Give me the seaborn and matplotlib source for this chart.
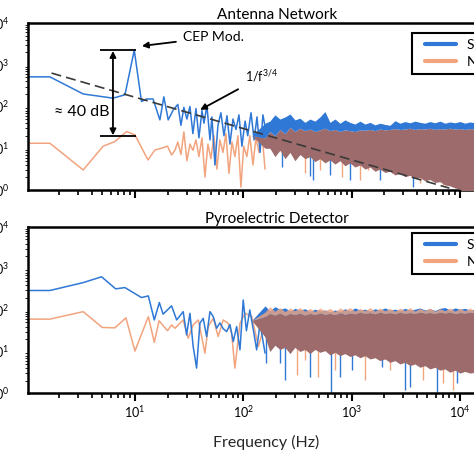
import numpy as np
import matplotlib
matplotlib.use("Agg")
import matplotlib.pyplot as plt
from matplotlib.lines import Line2D
from matplotlib.legend_handler import HandlerLine2D
import seaborn as sns

# ---- values: frequency in Hz, PSD as log10 ----
# Antenna network, resolved low-frequency part
TOP_SIG_F = [1.0, 1.64, 3.33, 6.27, 8.09, 9.86, 11.5, 12.8, 14.7, 17.0,
             18.5, 20.3, 22.6, 24.9, 26.6, 28.3, 30.2, 32.2, 34.3, 36.6,
             39.0, 41.6, 43.4, 46.2, 49.3, 51.4, 54.8, 58.4, 62.2, 66.4,
             70.8, 75.4, 80.4, 85.7, 91.3, 97.3, 104, 110, 118, 126,
             134, 143, 152, 162]
TOP_SIG_LOG = [2.71, 2.71, 2.30, 2.20, 2.28, 3.35, 2.12, 2.18, 2.18, 1.68,
               2.23, 1.68, 1.92, 2.05, 1.55, 1.98, 1.70, 2.00, 1.35, 1.95,
               1.25, 1.90, 1.60, 2.02, 1.20, 1.75, 0.60, 1.55, 1.85, 1.30,
               1.78, 1.10, 1.70, 1.45, 1.80, 1.05, 1.65, 1.30, 1.85, 1.20,
               1.75, 0.90, 1.80, 1.40]
TOP_NOI_F = [1.0, 1.64, 3.33, 5.09, 6.53, 8.38, 10.0, 13.2, 15.3, 17.6,
             20.0, 21.8, 23.4, 24.9, 26.6, 28.3, 30.2, 32.2, 34.3, 36.6,
             39.0, 41.6, 44.3, 47.2, 50.3, 53.6, 57.1, 60.9, 65.0, 69.2,
             73.8, 78.7, 83.8, 89.3, 95.2, 101, 108, 115, 123, 131,
             140, 149, 159]
TOP_NOI_LOG = [1.12, 1.12, 0.48, 1.05, 1.16, 1.40, 1.32, 0.72, 0.96, 1.00,
               1.05, 0.84, 0.95, 1.15, 0.85, 1.39, 0.70, 1.10, 0.95, 1.20,
               0.80, 1.25, 0.31, 1.10, 0.75, 1.30, 0.50, 1.20, 0.90, 1.35,
               0.40, 1.15, 0.80, 1.30, 0.07, 1.05, 0.80, 1.30, 0.60, 1.25,
               0.90, 1.35, 0.50]

# Pyroelectric detector, resolved low-frequency part
BOT_SIG_F = [1.0, 1.64, 3.33, 4.92, 6.64, 8.09, 11.5, 13.3, 15.1, 16.8,
             18.2, 21.8, 24.3, 27.9, 30.0, 32.2, 34.5, 37.1, 39.8, 42.7,
             45.9, 49.3, 52.9, 56.8, 60.9, 65.3, 70.3, 75.4, 80.9, 86.9,
             93.3, 100, 107, 115, 124, 133, 143, 159]
BOT_SIG_LOG = [2.47, 2.47, 2.66, 2.80, 2.51, 2.54, 2.30, 2.34, 1.76, 2.18,
               1.90, 2.10, 1.76, 1.96, 1.40, 1.92, 1.12, 0.60, 1.68, 1.80,
               1.36, 1.96, 1.84, 1.56, 1.69, 1.55, 1.48, 1.65, 1.24, 1.60,
               1.04, 2.24, 1.50, 2.00, 1.52, 1.04, 1.68, 0.96]
BOT_NOI_F = [1.0, 1.64, 3.33, 4.99, 6.53, 8.26, 10.0, 13.3, 15.1, 16.7,
             20.0, 21.8, 23.4, 27.9, 31.0, 34.5, 38.5, 41.3, 44.3, 47.5,
             52.9, 58.7, 65.3, 72.6, 78.0, 83.8, 93.3, 104, 120, 138,
             159]
BOT_NOI_LOG = [1.78, 1.78, 1.96, 1.58, 1.57, 1.81, 1.01, 1.84, 1.22, 1.74,
               1.50, 1.64, 1.56, 1.76, 1.32, 1.64, 1.76, 1.36, 0.96, 1.60,
               1.80, 1.36, 1.76, 1.68, 1.45, 0.60, 1.68, 1.92, 1.84, 1.12,
               1.68]

# dense part above ~120 Hz, read as envelopes of the overlapping traces
BAND_F = [120, 159, 176, 196, 218, 243, 270, 300, 334, 371, 413,
          459, 511, 568, 632, 703, 782, 869, 966, 1075, 1196,
          1330, 1479, 1645, 1829, 2034, 2262, 2516, 2798, 3111, 3460,
          3848, 4280, 4760, 5293, 5887, 6547, 7282, 8098, 9006, 10016,
          11139, 12388, 13777, 44400]
TOP_SIG_UP = [1.30, 1.60, 1.65, 1.80, 1.70, 1.75, 1.82, 1.68, 1.72, 1.62, 1.70,
              1.65, 1.75, 1.88, 1.62, 1.70, 1.60, 1.68, 1.62, 1.58, 1.65,
              1.58, 1.62, 1.56, 1.60, 1.57, 1.55, 1.66, 1.60, 1.64, 1.61,
              1.65, 1.62, 1.60, 1.64, 1.61, 1.65, 1.60, 1.63, 1.61, 1.64,
              1.60, 1.63, 1.61, 1.62]
TOP_MIX_UP = [1.30, 1.25, 1.40, 1.30, 1.45, 1.35, 1.50, 1.40, 1.48, 1.42, 1.46,
              1.40, 1.44, 1.48, 1.42, 1.45, 1.40, 1.44, 1.42, 1.40, 1.44,
              1.43, 1.45, 1.42, 1.46, 1.44, 1.45, 1.47, 1.45, 1.46, 1.48,
              1.45, 1.47, 1.46, 1.48, 1.45, 1.47, 1.46, 1.48, 1.46, 1.47,
              1.45, 1.47, 1.46, 1.46]
TOP_MIX_LO = [1.30, 1.00, 1.00, 0.80, 0.95, 0.75, 0.90, 0.70, 0.85, 0.75, 0.80,
              0.68, 0.75, 0.65, 0.72, 0.62, 0.70, 0.58, 0.65, 0.55, 0.60,
              0.50, 0.55, 0.45, 0.50, 0.42, 0.45, 0.36, 0.40, 0.32, 0.35,
              0.28, 0.30, 0.22, 0.25, 0.18, 0.20, 0.12, 0.10, 0.05, 0.02,
              -0.1, -0.1, -0.1, -0.1]
BOT_SIG_UP = [1.75, 2.10, 1.98, 2.08, 2.02, 2.05, 1.98, 2.04, 2.00, 2.03, 1.97,
              2.02, 1.98, 2.00, 1.96, 2.00, 1.97, 2.03, 1.98, 2.05, 2.00,
              2.02, 1.98, 2.03, 2.00, 2.05, 2.00, 2.02, 1.99, 2.04, 2.00,
              2.02, 2.05, 2.00, 2.03, 1.99, 2.04, 2.06, 2.00, 2.05, 2.02,
              2.04, 2.00, 2.02, 2.00]
BOT_NOI_UP = [1.75, 1.95, 2.08, 1.97, 2.06, 1.96, 2.05, 1.98, 2.06, 1.97, 2.04,
              1.96, 2.05, 1.98, 2.04, 1.96, 2.05, 1.99, 2.06, 1.97, 2.04,
              1.98, 2.06, 1.97, 2.05, 1.98, 2.04, 1.97, 2.05, 1.98, 2.06,
              1.97, 2.04, 1.98, 2.05, 1.97, 2.03, 1.98, 2.05, 1.97, 2.04,
              1.98, 2.05, 1.97, 2.00]
BOT_MIX_UP = [1.75, 1.85, 1.92, 1.88, 1.93, 1.87, 1.92, 1.89, 1.93, 1.88, 1.92,
              1.89, 1.93, 1.90, 1.92, 1.89, 1.94, 1.90, 1.93, 1.91, 1.95,
              1.92, 1.94, 1.91, 1.95, 1.92, 1.94, 1.91, 1.95, 1.92, 1.94,
              1.92, 1.95, 1.93, 1.94, 1.92, 1.95, 1.93, 1.95, 1.92, 1.94,
              1.93, 1.95, 1.93, 1.94]
BOT_MIX_LO = [1.75, 1.35, 1.00, 1.15, 1.05, 1.10, 0.95, 1.10, 1.00, 1.05, 0.95,
              1.05, 0.98, 1.02, 0.92, 0.98, 0.90, 0.95, 0.88, 0.92, 0.85,
              0.90, 0.82, 0.85, 0.78, 0.82, 0.74, 0.78, 0.70, 0.74, 0.66,
              0.70, 0.62, 0.66, 0.58, 0.62, 0.55, 0.58, 0.50, 0.55, 0.48,
              0.52, 0.48, 0.50, 0.50]

# deep single dips below the dense band
TOP_SIG_DIP_F = [228, 413, 443, 631, 966, 1828, 3715, 10400]
TOP_SIG_DIP_LOG = [0.55, 0.34, 0.24, 0.36, 0.24, 0.24, 0.08, 0.05]
TOP_NOI_DIP_F = [371, 511, 809, 1197, 1427, 2344, 3460, 4283, 7036]
TOP_NOI_DIP_LOG = [0.40, 0.48, 0.32, 0.24, 0.48, 0.40, 0.36, 0.16, 0.12]
BOT_SIG_DIP_F = [162, 218, 243, 413, 428, 641, 782, 1002, 1897, 3111, 3460, 6110, 9350]
BOT_SIG_DIP_LOG = [0.72, 0.72, 0.31, 0.39, 1.24, 0.03, 0.39, 0.55, 0.63, 0.07, 0.15, 0.03, 0.23]
BOT_NOI_DIP_F = [313, 371, 493, 703, 1330, 2262, 4600, 7036, 8710]
BOT_NOI_DIP_LOG = [0.43, 0.80, 0.39, 0.55, 0.31, 0.55, 0.31, 0.23, 0.07]

# 1/f^(3/4) guide line
GUIDE_F = [1.7, 8000]
GUIDE_LOG = [2.80, 0.045]

BLUE = "#2f78d6"
ORANGE = "#f2a47e"
MIX = "#9d6b6b"


def p(v):
    return 10.0 ** np.asarray(v, dtype=float)


def draw_panel(ax, sig_f, sig_log, noi_f, noi_log, sig_up, noi_up, mix_up, mix_lo,
               sig_dips, noi_dips, spike_top, title, legend_top):
    ax.set(xscale="log", yscale="log")
    sns.lineplot(x=noi_f, y=p(noi_log), ax=ax, color=ORANGE, lw=1.1,
                 estimator=None, sort=False, zorder=2)
    sns.lineplot(x=sig_f, y=p(sig_log), ax=ax, color=BLUE, lw=1.1,
                 estimator=None, sort=False, zorder=2)
    ax.vlines(noi_dips[0], p(noi_dips[1]), 10 ** spike_top, color=ORANGE, lw=1.0, zorder=2)
    ax.vlines(sig_dips[0], p(sig_dips[1]), 10 ** spike_top, color=BLUE, lw=1.0, zorder=2)
    ax.fill_between(BAND_F, p(mix_lo), p(mix_up), color=MIX, lw=0, zorder=3)
    ax.fill_between(BAND_F, p(mix_up), p(sig_up), color=BLUE, lw=0, zorder=3)
    if noi_up is not None:
        ax.fill_between(BAND_F, p(mix_up), p(noi_up), color=ORANGE, lw=0, alpha=0.8, zorder=3)

    ax.set_xlim(1.03, 40800)
    ax.set_ylim(1, 1e4)
    ax.set_title(title, fontsize=11, pad=3)
    for s in ax.spines.values():
        s.set_linewidth(1.8)
        s.set_color("black")
    ax.tick_params(axis="y", length=0, pad=13.5, labelsize=9)
    ax.tick_params(axis="x", which="major", direction="out", length=6, width=1.5, labelsize=9, pad=2)
    ax.tick_params(axis="x", which="minor", direction="out", length=3.5, width=1.2)
    ax.set_xlabel("")
    ax.set_ylabel("")
    handles = [Line2D([], [], color=BLUE, lw=3), Line2D([], [], color=ORANGE, lw=3)]
    leg = ax.legend(handles, ["Signal", "Noise"], loc="upper left",
                    bbox_to_anchor=(0.771, legend_top), borderaxespad=0,
                    fontsize=10, frameon=True, fancybox=False,
                    borderpad=0.45, labelspacing=0.35, handlelength=3.2, handletextpad=0.3,
                    handler_map={Line2D: HandlerLine2D(numpoints=2, marker_pad=0.49)})
    leg.get_frame().set_edgecolor("black")
    leg.get_frame().set_linewidth(1.5)
    leg.get_frame().set_alpha(1)


def main():
    sns.set_style("ticks", {"axes.edgecolor": "black", "text.color": "black",
                            "xtick.color": "black", "ytick.color": "black"})
    plt.rcParams["font.family"] = ["Lato", "DejaVu Sans"]
    plt.rcParams["mathtext.default"] = "regular"

    fig = plt.figure(figsize=(4.74, 4.74), dpi=100)
    ax1 = fig.add_axes([28 / 474, 1 - 190 / 474, 498 / 474, 167 / 474])
    ax2 = fig.add_axes([28 / 474, 1 - 393 / 474, 498 / 474, 166 / 474])

    draw_panel(ax1, TOP_SIG_F, TOP_SIG_LOG, TOP_NOI_F, TOP_NOI_LOG, TOP_SIG_UP, None,
               TOP_MIX_UP, TOP_MIX_LO, (TOP_SIG_DIP_F, TOP_SIG_DIP_LOG),
               (TOP_NOI_DIP_F, TOP_NOI_DIP_LOG), 1.2, "Antenna Network", 0.94)
    draw_panel(ax2, BOT_SIG_F, BOT_SIG_LOG, BOT_NOI_F, BOT_NOI_LOG, BOT_SIG_UP, BOT_NOI_UP,
               BOT_MIX_UP, BOT_MIX_LO, (BOT_SIG_DIP_F, BOT_SIG_DIP_LOG),
               (BOT_NOI_DIP_F, BOT_NOI_DIP_LOG), 1.5, "Pyroelectric Detector", 0.964)
    ax1.tick_params(axis="x", labelbottom=False)

    # 1/f^(3/4) guide
    ax1.plot(GUIDE_F, p(GUIDE_LOG), color="#3a3a3a", lw=1.2, dashes=(6, 3), zorder=4)

    # annotations on the antenna panel
    ax1.hlines([10 ** 3.35, 10 ** 1.29], 4.75, 10.2, color="black", lw=1.3, zorder=5)
    ax1.annotate("", xy=(6.27, 10 ** 3.33), xytext=(6.27, 10 ** 1.31),
                 arrowprops=dict(arrowstyle="<|-|>", color="black", lw=1.3,
                                 mutation_scale=9, shrinkA=0, shrinkB=0), zorder=5)
    ax1.text(3.2, 10 ** 1.87, "\u2248 40 dB", fontsize=11.5, ha="center", va="center", zorder=5)
    ax1.annotate("CEP Mod.", xy=(11.6, 10 ** 3.45), xytext=(28, 10 ** 3.66),
                 fontsize=10, va="center", ha="left",
                 arrowprops=dict(arrowstyle="-|>", color="black", lw=1.3,
                                 mutation_scale=9, shrinkA=3, shrinkB=0), zorder=5)
    ax1.annotate("$1/f^{3/4}$", xy=(40, 10 ** 1.92), xytext=(104, 10 ** 2.72),
                 fontsize=9, va="center", ha="left",
                 arrowprops=dict(arrowstyle="-|>", color="black", lw=1.3,
                                 mutation_scale=9, shrinkA=3, shrinkB=0), zorder=5)

    ax2.set_xlabel("Frequency (Hz)", fontsize=11.5)
    ax2.xaxis.set_label_coords(0.478, -0.25)

    fig.savefig("out.png", dpi=100)


if __name__ == "__main__":
    main()
